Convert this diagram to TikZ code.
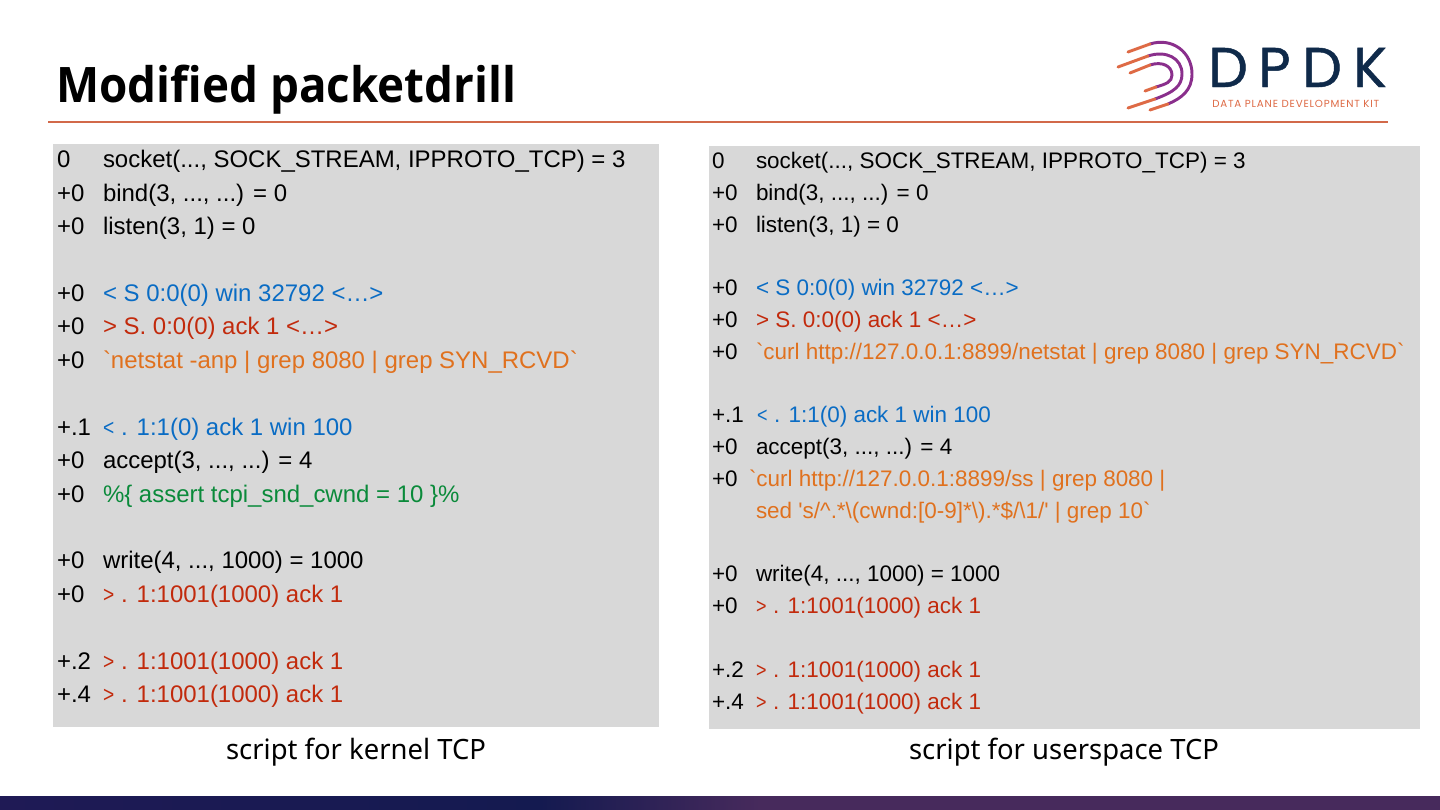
\documentclass[tikz,border=0pt]{standalone}
\usepackage{graphicx}
\usepackage{fontspec}
\setmainfont{Liberation Sans}
\newfontfamily\codefont{Liberation Sans}
\newfontfamily\titlefont{Open Sans}
\newfontfamily\capfont{Noto Sans}
\newfontfamily\logofont{Poppins}[FakeBold=0.8]
\newfontfamily\logosub{Poppins}[LetterSpace=8]
\newcommand{\ngt}{\makebox[0.48em]{\scalebox{0.8}[0.95]{>}}}
\newcommand{\nlt}{\makebox[0.48em]{\scalebox{0.8}[0.95]{<}}}
\definecolor{codebg}{HTML}{D8D8D8}
\definecolor{cblue}{HTML}{0A6CC4}
\definecolor{cred}{HTML}{C22A0C}
\definecolor{corange}{HTML}{E0711E}
\definecolor{cgreen}{HTML}{0A8A3A}
\definecolor{rulec}{HTML}{D2694A}
\definecolor{navy}{HTML}{0F2A4A}
\definecolor{lpurple}{HTML}{8A2F8C}
\definecolor{lorange}{HTML}{DE6A45}
\definecolor{bandA}{HTML}{1F1A55}
\definecolor{bandB}{HTML}{141A50}
\definecolor{bandC}{HTML}{472A5C}
\tikzset{
 x=0.75pt,y=-0.75pt,
 lt/.style={anchor=base west,inner sep=0pt,outer sep=0pt,font=\codefont\fontsize{17.98}{20}\selectfont,text=black},
 rt/.style={anchor=base west,inner sep=0pt,outer sep=0pt,font=\codefont\fontsize{16.85}{20}\selectfont,text=black},
 logoarc/.style={line width=2.2pt,line cap=round,lpurple},
 logotail/.style={line width=2.2pt,line cap=round,lorange},
 logoletter/.style={anchor=base west,inner sep=0pt,text=navy,font=\logofont\fontsize{42}{44}\selectfont},
}
\begin{document}
\begin{tikzpicture}
\useasboundingbox (0,0) rectangle (1440,810);
\fill[white] (0,0) rectangle (1440,810);
% bottom band
\shade[left color=bandA,right color=bandB] (0,796) rectangle (540,810);
\shade[left color=bandB,right color=bandC] (540,796) rectangle (760,810);
\fill[bandC] (760,796) rectangle (1440,810);
% title
\node[anchor=base west,inner sep=0pt,font=\titlefont\bfseries\fontsize{36.7}{40}\selectfont] (title) at (56,102) {\scalebox{0.935}[1]{Modified packetdrill}};
\coordinate (ra) at (48,121.5); \coordinate (rb) at (1388,121.5);
\draw[rulec,line width=1.5pt] (ra) -- (rb);
% logo
\draw[logoarc] (1150,44) .. controls (1172,37) and (1192,52) .. (1192,74) .. controls (1192,90) and (1182,98) .. (1168,104);
\draw[logoarc] (1148,56) .. controls (1166,50) and (1182,58) .. (1182,74) .. controls (1182,86) and (1174,92) .. (1155,99);
\draw[logoarc] (1150,65) .. controls (1162,61) and (1172,66) .. (1172,75) .. controls (1172,82) and (1166,84) .. (1156,87);
\draw[logotail] (1128,52) -- (1150,44);
\draw[logotail] (1118,67) -- (1148,56);
\draw[logotail] (1130,73) -- (1150,65);
\draw[logotail] (1145,91) -- (1156,87);
\draw[logotail] (1128,108) -- (1155,99);
\draw[logotail] (1150,110) -- (1168,104);
\node[logoletter] (d1) at (1208,87) {D};
\node[logoletter] (p1) at (1258,87) {P};
\node[logoletter] (d2) at (1302,87) {D};
\node[logoletter] (k1) at (1353,87) {K};
\node[anchor=base west,inner sep=0pt,text=lorange,font=\logosub\fontsize{7.7}{10}\selectfont] (sub) at (1212,107) {DATA PLANE DEVELOPMENT KIT};
% panels
\fill[codebg] (53,144) rectangle (659,727);
\fill[codebg] (709,146) rectangle (1420,729);
% left
\node[lt] (l1a) at (57,167) {0};
\node[lt] (l1b) at (103,167) {socket(..., SOCK\_STREAM, IPPROTO\_TCP) = 3};
\node[lt] (l2a) at (57,201) {+0};
\node[lt] (l2b) at (103,201) {bind(3, ..., ...) = 0};
\node[lt] (l3a) at (57,234) {+0};
\node[lt] (l3b) at (103,234) {listen(3, 1) = 0};
\node[lt] (l4a) at (57,301) {+0};
\node[lt,text=cblue] (l4b) at (103,301) {< S 0:0(0) win 32792 <…>};
\node[lt] (l5a) at (57,334) {+0};
\node[lt,text=cred] (l5b) at (103,334) {> S. 0:0(0) ack 1 <…>};
\node[lt] (l6a) at (57,368) {+0};
\node[lt,text=corange] (l6b) at (103,368) {`netstat -anp | grep 8080 | grep SYN\_RCVD`};
\node[lt] (l7a) at (57,435) {+.1};
\node[lt,text=cblue] (l7b) at (103,435) {\nlt{} . 1:1(0) ack 1 win 100};
\node[lt] (l8a) at (57,468) {+0};
\node[lt] (l8b) at (103,468) {accept(3, ..., ...) = 4};
\node[lt] (l9a) at (57,502) {+0};
\node[lt,text=cgreen] (l9b) at (103,502) {\%\{ assert tcpi\_snd\_cwnd = 10 \}\%};
\node[lt] (l10a) at (57,568) {+0};
\node[lt] (l10b) at (103,568) {write(4, ..., 1000) = 1000};
\node[lt] (l11a) at (57,602) {+0};
\node[lt,text=cred] (l11b) at (103,602) {\ngt{} . 1:1001(1000) ack 1};
\node[lt] (l12a) at (57,669) {+.2};
\node[lt,text=cred] (l12b) at (103,669) {\ngt{} . 1:1001(1000) ack 1};
\node[lt] (l13a) at (57,702) {+.4};
\node[lt,text=cred] (l13b) at (103,702) {\ngt{} . 1:1001(1000) ack 1};
% right
\node[rt] (r1a) at (712,168) {0};
\node[rt] (r1b) at (756,168) {socket(..., SOCK\_STREAM, IPPROTO\_TCP) = 3};
\node[rt] (r2a) at (712,200) {+0};
\node[rt] (r2b) at (756,200) {bind(3, ..., ...) = 0};
\node[rt] (r3a) at (712,232) {+0};
\node[rt] (r3b) at (756,232) {listen(3, 1) = 0};
\node[rt] (r4a) at (712,295) {+0};
\node[rt,text=cblue] (r4b) at (756,295) {< S 0:0(0) win 32792 <…>};
\node[rt] (r5a) at (712,327) {+0};
\node[rt,text=cred] (r5b) at (756,327) {> S. 0:0(0) ack 1 <…>};
\node[rt] (r6a) at (712,359) {+0};
\node[rt,text=corange] (r6b) at (756,359) {`curl http://127.0.0.1:8899/netstat | grep 8080 | grep SYN\_RCVD`};
\node[rt] (r7a) at (712,422) {+.1};
\node[rt,text=cblue] (r7b) at (757,422) {\nlt{} . 1:1(0) ack 1 win 100};
\node[rt] (r8a) at (712,454) {+0};
\node[rt] (r8b) at (756,454) {accept(3, ..., ...) = 4};
\node[rt] (r9a) at (712,486) {+0};
\node[rt,text=corange] (r9b) at (749,486) {`curl http://127.0.0.1:8899/ss | grep 8080 |};
\node[rt,text=corange] (r10b) at (756,518) {sed 's/\^{}.*\textbackslash(cwnd:[0-9]*\textbackslash).*\$/\textbackslash 1/' | grep 10`};
\node[rt] (r11a) at (712,581) {+0};
\node[rt] (r11b) at (756,581) {write(4, ..., 1000) = 1000};
\node[rt] (r12a) at (712,613) {+0};
\node[rt,text=cred] (r12b) at (756,613) {\ngt{} . 1:1001(1000) ack 1};
\node[rt] (r13a) at (712,677) {+.2};
\node[rt,text=cred] (r13b) at (756,677) {\ngt{} . 1:1001(1000) ack 1};
\node[rt] (r14a) at (712,709) {+.4};
\node[rt,text=cred] (r14b) at (756,709) {\ngt{} . 1:1001(1000) ack 1};
% captions
\node[anchor=base,inner sep=0pt,font=\capfont\fontsize{21}{24}\selectfont] (c1) at (356,759) {\scalebox{0.98}[1]{script for kernel TCP}};
\node[anchor=base,inner sep=0pt,font=\capfont\fontsize{21}{24}\selectfont] (c2) at (1064,759) {\scalebox{0.98}[1]{script for userspace TCP}};
\end{tikzpicture}
\end{document}
